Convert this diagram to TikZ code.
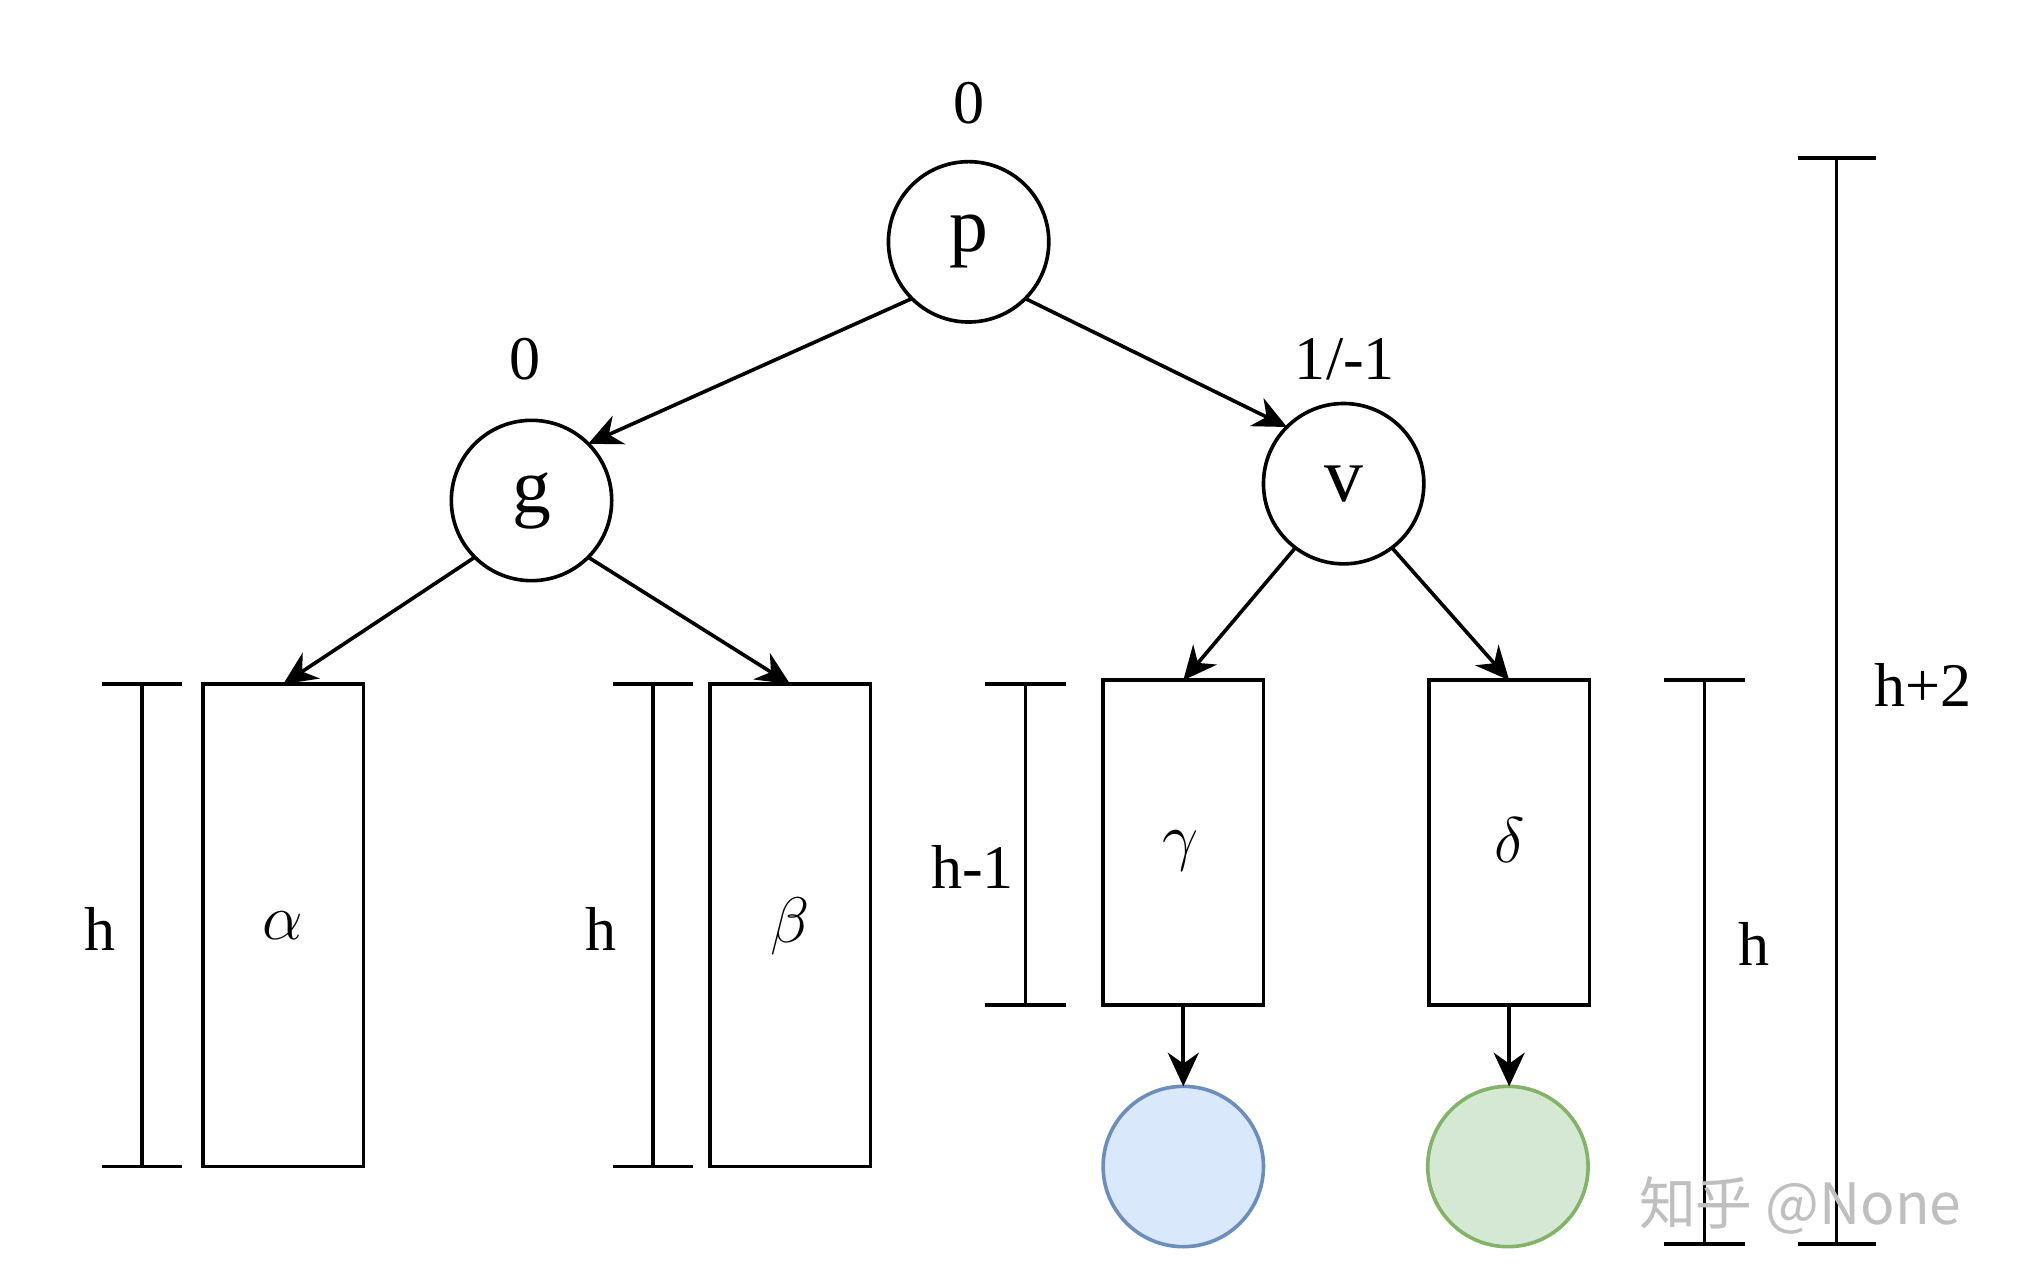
\documentclass[tikz,border=0pt]{standalone}
\usepackage{fontspec}
\setmainfont{Liberation Serif}
\newfontfamily\cjkf{Noto Sans CJK SC}
\usetikzlibrary{arrows.meta}
\begin{document}
\begin{tikzpicture}[x=0.5pt,y=-0.5pt,
  every node/.style={inner sep=0pt,outer sep=0pt},
  lbl/.style={font=\fontsize{24}{28}\selectfont},
  cn/.style={circle,draw,line width=1.4pt,minimum size=62pt,font=\fontsize{30}{34}\selectfont},
  bx/.style={draw,line width=1.4pt,minimum width=62pt,anchor=north west},
  ar/.style={line width=1.4pt,-{Stealth[length=13pt,width=12pt]}},
  bar/.style={line width=1.4pt}]
\useasboundingbox (0,0) rectangle (1562,993);
\node[cn] (p) at (749,187) {p};
\node[cn] (g) at (411,387) {g};
\node[cn] (v) at (1039,374) {v};
\node[lbl] (lp) at (749,80) {0};
\node[lbl] (lg) at (406,278) {0};
\node[lbl] (lv) at (1040,278) {1/-1};
\node[bx,minimum height=186.5pt] (a) at (157,529) {};
\node[bx,minimum height=186.5pt] (b) at (549,529) {};
\node[bx,minimum height=125.5pt] (c) at (853,526) {};
\node[bx,minimum height=125.5pt] (d) at (1105,526) {};
\node[lbl] at (219,716) {$\alpha$};
\node[lbl] at (611,716) {$\beta$};
\node[lbl] at (913,658) {$\gamma$};
\node[lbl] at (1167,650) {$\delta$};
\node[circle,draw={rgb,255:red,108;green,142;blue,191},line width=1.4pt,fill={rgb,255:red,218;green,232;blue,252},minimum size=62pt] (e) at (915,902) {};
\node[circle,draw={rgb,255:red,130;green,179;blue,102},line width=1.4pt,fill={rgb,255:red,213;green,232;blue,212},minimum size=62pt] (f) at (1166,902) {};
\draw[ar] (p.-135) -- (g.45);
\draw[ar] (p.-45) -- (v.135);
\draw[ar] (g.-135) -- (a.north);
\draw[ar] (g.-45) -- (b.north);
\draw[ar] (v.-127) -- (c.north);
\draw[ar] (v.-53) -- (d.north);
\draw[ar] (c.south) -- (e.north);
\draw[ar] (d.south) -- (d.south |- f.north);
\draw[bar] (79,529) -- (141,529) (110,529) -- (110,902) (79,902) -- (141,902);
\draw[bar] (474,529) -- (536,529) (505,529) -- (505,902) (474,902) -- (536,902);
\draw[bar] (762,529) -- (824,529) (793,529) -- (793,777) (762,777) -- (824,777);
\draw[bar] (1287,526) -- (1349,526) (1318,526) -- (1318,962) (1287,962) -- (1349,962);
\draw[bar] (1390,122) -- (1451,122) (1420,122) -- (1420,962) (1390,962) -- (1451,962);
\node[lbl] at (77,718) {h};
\node[lbl] at (465,718) {h};
\node[lbl] at (752,670) {h-1};
\node[lbl] at (1356,730) {h};
\node[lbl] at (1487,530) {h+2};
\node[font=\cjkf\fontsize{22}{26}\selectfont,text=black!25] at (1392,932) {知乎 @None};
\end{tikzpicture}
\end{document}
